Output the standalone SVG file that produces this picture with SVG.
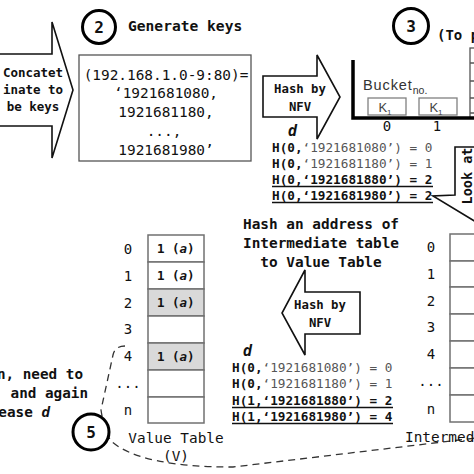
<svg xmlns="http://www.w3.org/2000/svg" width="474" height="474" viewBox="0 0 474 474">
<style>
.m{font-family:"DejaVu Sans Mono","Liberation Mono",monospace;fill:#111}
.b{font-weight:bold}
.s{font-family:"Liberation Sans","DejaVu Sans",sans-serif}
.ar{fill:#fff;stroke:#111;stroke-width:1.6;stroke-linejoin:miter}
.cell{fill:#fff;stroke:#707070;stroke-width:1.5}
.sh{fill:#d9d9d9}
.num{fill:#fff;stroke:#000;stroke-width:3}
.gr{fill:#555;font-weight:normal}
.ul{stroke:#111;stroke-width:1.3}
.kb{fill:#fff;stroke:#808080;stroke-width:1.3}
</style>
<rect width="474" height="474" fill="#fff"/>

<g id="connectors">
<path d="M 125 346 Q 115 346 113 355 L 101 410 Q 104 430 111 441 Q 140 467 233 467 L 476 438" fill="none" stroke="#333" stroke-width="1.3" stroke-dasharray="7 5"/>
</g>

<g id="arrow-concat">
<path class="ar" d="M -5 54 L 52 54 L 52 22 L 73 90 L 52 158 L 52 126 L -5 126 Z"/>
<g class="m b" font-size="12.5" text-anchor="middle">
<text x="33" y="77">Concatet</text>
<text x="33" y="94">inate to</text>
<text x="33" y="111">be keys</text>
</g>
</g>

<g id="step2">
<circle class="num" cx="99" cy="27" r="16.5"/>
<text class="m b" x="99" y="33" font-size="16" text-anchor="middle">2</text>
<text class="m b" x="128" y="31" font-size="14.6">Generate keys</text>
</g>

<g id="keys-box">
<rect x="79" y="55" width="172" height="106" fill="#fff" stroke="#555" stroke-width="1.3"/>
<g class="m" font-size="14.4" text-anchor="middle">
<text x="166" y="80">(192.168.1.0-9:80)=</text>
<text x="166" y="98">‘1921681080,</text>
<text x="166" y="117">1921681180,</text>
<text x="164" y="136">...,</text>
<text x="166" y="155">1921681980’</text>
</g>
</g>

<g id="arrow-hash1">
<path class="ar" d="M 263 76 L 317 76 L 317 55 L 340 97 L 317 139 L 317 117 L 263 117 Z"/>
<g class="m b" font-size="12.3" text-anchor="middle">
<text x="300" y="93">Hash by</text>
<text x="300" y="111">NFV</text>
</g>
</g>

<g id="step3">
<circle class="num" cx="411" cy="26" r="17.5"/>
<text class="m b" x="411" y="32" font-size="16" text-anchor="middle">3</text>
<text class="m b" x="437" y="40" font-size="14">(To p</text>
</g>

<g id="buckets">
<rect x="470" y="48" width="20" height="70" fill="#fff" stroke="#555" stroke-width="1.3"/>
<path d="M 470 63 H 480 M 470 81 H 480 M 470 98 H 480 M 470 113 H 480" stroke="#555" stroke-width="1.3"/>
<path d="M 353 60 L 353 118 L 476 118" fill="none" stroke="#000" stroke-width="3.5"/>
<text class="s" x="363" y="90" font-size="14.5" fill="#333" letter-spacing="0.9">Bucket<tspan font-size="10.5" dy="4" letter-spacing="0">no.</tspan></text>
<rect class="kb" x="368" y="98" width="38" height="17"/>
<rect class="kb" x="419" y="98" width="38" height="17"/>
<text class="s" x="385" y="112" font-size="13" fill="#444" text-anchor="middle">K<tspan font-size="8" dy="3">1</tspan></text>
<text class="s" x="436" y="112" font-size="13" fill="#444" text-anchor="middle">K<tspan font-size="8" dy="3">1</tspan></text>
<text class="m" x="387" y="131" font-size="14" text-anchor="middle">0</text>
<text class="m" x="437" y="131" font-size="14" text-anchor="middle">1</text>
</g>

<g id="hash-top">
<text class="m b" x="288" y="136" font-size="15" font-style="italic">d</text>
<g class="m" font-size="12.7">
<text x="272" y="152"><tspan class="b">H(0,</tspan><tspan class="gr">‘1921681080’) = 0</tspan></text>
<text x="272" y="168"><tspan class="b">H(0,</tspan><tspan class="gr">‘1921681180’) = 1</tspan></text>
<text class="b" x="272" y="184">H(0,‘1921681880’) = 2</text>
<text class="b" x="272" y="200">H(0,‘1921681980’) = 2</text>
</g>
<path class="ul" d="M 272 186.5 H 433 M 272 202.5 H 433"/>
</g>

<g id="look-at">
<path d="M 476 147 L 455 147 L 455 195 L 433 196 L 476 222" fill="#fff" stroke="#111" stroke-width="1.6"/>
<text class="m b" transform="translate(472,176) rotate(-90)" font-size="13.5" text-anchor="middle">Look at</text>
</g>

<g id="caption-hash">
<g class="m b" font-size="14.4" text-anchor="middle">
<text x="321" y="229">Hash an address of</text>
<text x="321" y="248">Intermediate table</text>
<text x="321" y="267">to Value Table</text>
</g>
</g>

<g id="arrow-hash2">
<path class="ar" d="M 360 292 L 305 292 L 305 270 L 282 313 L 305 355 L 305 334 L 360 334 Z"/>
<g class="m b" font-size="12.3" text-anchor="middle">
<text x="320" y="309">Hash by</text>
<text x="320" y="327">NFV</text>
</g>
</g>

<g id="hash-bottom">
<text class="m b" x="243" y="356" font-size="15" font-style="italic">d</text>
<g class="m" font-size="12.7">
<text x="232" y="372"><tspan class="b">H(0,</tspan><tspan class="gr">‘1921681080’) = 0</tspan></text>
<text x="232" y="388"><tspan class="b">H(0,</tspan><tspan class="gr">‘1921681180’) = 1</tspan></text>
<text class="b" x="232" y="405">H(1,‘1921681880’) = 2</text>
<text class="b" x="232" y="421">H(1,‘1921681980’) = 4</text>
</g>
<path class="ul" d="M 232 407.5 H 393 M 232 423.5 H 393"/>
</g>

<g id="value-table">
<rect class="cell" x="148" y="235" width="56" height="27"/>
<rect class="cell" x="148" y="262" width="56" height="27"/>
<rect class="cell sh" x="148" y="289" width="56" height="27"/>
<rect class="cell" x="148" y="316" width="56" height="27"/>
<rect class="cell sh" x="148" y="343" width="56" height="27"/>
<rect class="cell" x="148" y="370" width="56" height="27"/>
<rect class="cell" x="148" y="397" width="56" height="26"/>
<g class="m b" font-size="12.5">
<text x="157" y="253">1 (<tspan font-style="italic">a</tspan>)</text>
<text x="157" y="280">1 (<tspan font-style="italic">a</tspan>)</text>
<text x="157" y="307">1 (<tspan font-style="italic">a</tspan>)</text>
<text x="157" y="361">1 (<tspan font-style="italic">a</tspan>)</text>
</g>
<g class="m" font-size="14" text-anchor="middle">
<text x="128" y="254">0</text>
<text x="128" y="281">1</text>
<text x="128" y="308">2</text>
<text x="128" y="334">3</text>
<text x="128" y="361">4</text>
<text x="128" y="388">...</text>
<text x="128" y="415">n</text>
</g>
<text class="m" x="176" y="443" font-size="14.4" text-anchor="middle">Value Table</text>
<text class="m" x="176" y="461" font-size="14.4" text-anchor="middle">(V)</text>
</g>

<g id="intermediate-table">
<rect class="cell" x="450" y="234" width="40" height="27"/>
<rect class="cell" x="450" y="261" width="40" height="26"/>
<rect class="cell" x="450" y="287" width="40" height="27"/>
<rect class="cell" x="450" y="314" width="40" height="27"/>
<rect class="cell" x="450" y="341" width="40" height="27"/>
<rect class="cell" x="450" y="368" width="40" height="27"/>
<rect class="cell" x="450" y="395" width="40" height="27"/>
<g class="m" font-size="14" text-anchor="middle">
<text x="431" y="252">0</text>
<text x="431" y="279">1</text>
<text x="431" y="306">2</text>
<text x="431" y="332">3</text>
<text x="431" y="359">4</text>
<text x="431" y="386">...</text>
<text x="431" y="414">n</text>
</g>
<text class="m" x="405" y="442" font-size="14.4">Intermediate Table</text>
</g>

<g id="step5">
<g class="m b" font-size="14.3" text-anchor="end">
<text x="83" y="379">n, need to</text>
<text x="88" y="398">and again</text>
<text x="50" y="417">ease <tspan font-style="italic">d</tspan></text>
</g>
<circle class="num" cx="91" cy="432" r="18"/>
<text class="m b" x="91" y="438" font-size="16" text-anchor="middle">5</text>
</g>
</svg>
